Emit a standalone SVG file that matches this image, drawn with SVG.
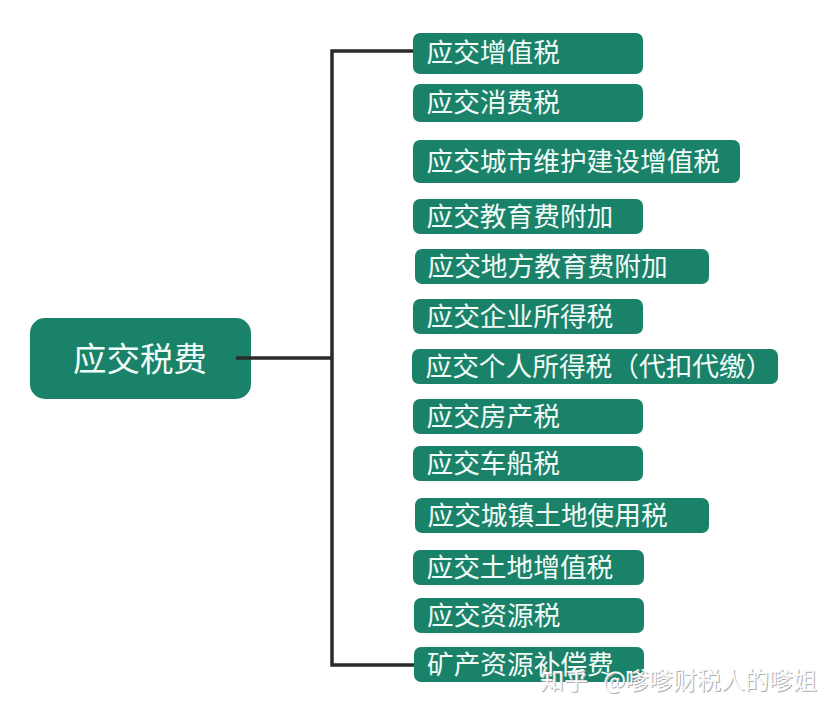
<svg xmlns="http://www.w3.org/2000/svg" width="837" height="714" viewBox="0 0 837 714">
<style>
.n{fill:#1a8269}
.t{fill:#f2fbf8;font-family:"Noto Sans CJK SC","Liberation Sans",sans-serif;font-size:26.7px}
.c{fill:none;stroke:#2a2a2a;stroke-width:3.5}
.w{font-family:"Noto Sans CJK SC","Liberation Sans",sans-serif;font-size:24px}
.s{fill:#b0b0b0}
.f{fill:#fbfbfb}
</style>
<rect width="837" height="714" fill="#fff"/>
<g id="node-root"><rect class="n" x="30" y="318" width="221" height="81" rx="15"/><text class="t" x="73" y="371" style="font-size:33.5px">应交税费</text></g>
<g id="node-1"><rect class="n" x="413" y="33" width="230" height="41" rx="7"/><text class="t" x="426.500" y="62">应交增值税</text></g>
<g id="node-2"><rect class="n" x="413" y="84" width="230" height="38" rx="7"/><text class="t" x="426.500" y="112">应交消费税</text></g>
<g id="node-3"><rect class="n" x="413" y="140" width="327" height="43" rx="7"/><text class="t" x="426.500" y="171">应交城市维护建设增值税</text></g>
<g id="node-4"><rect class="n" x="413" y="199" width="230" height="35" rx="7"/><text class="t" x="426.500" y="226">应交教育费附加</text></g>
<g id="node-5"><rect class="n" x="415" y="249" width="294" height="35" rx="7"/><text class="t" x="427.500" y="276">应交地方教育费附加</text></g>
<g id="node-6"><rect class="n" x="413" y="299" width="230" height="35" rx="7"/><text class="t" x="426.500" y="326">应交企业所得税</text></g>
<g id="node-7"><rect class="n" x="412" y="349" width="366" height="35" rx="7"/><text class="t" x="425.500" y="376">应交个人所得税（代扣代缴）</text></g>
<g id="node-8"><rect class="n" x="413" y="399" width="230" height="35" rx="7"/><text class="t" x="426.500" y="426">应交房产税</text></g>
<g id="node-9"><rect class="n" x="413" y="446" width="230" height="35" rx="7"/><text class="t" x="426.500" y="473">应交车船税</text></g>
<g id="node-10"><rect class="n" x="415" y="498" width="294" height="35" rx="7"/><text class="t" x="427.500" y="525">应交城镇土地使用税</text></g>
<g id="node-11"><rect class="n" x="413" y="550" width="231" height="35" rx="7"/><text class="t" x="426.500" y="577">应交土地增值税</text></g>
<g id="node-12"><rect class="n" x="414" y="598" width="230" height="35" rx="7"/><text class="t" x="427" y="625">应交资源税</text></g>
<g id="node-13"><rect class="n" x="414" y="647" width="230" height="35" rx="7"/><text class="t" x="427" y="674">矿产资源补偿费</text></g>
<g id="connectors"><path class="c" d="M236 358H332M413 51H332V665H414"/></g>
<g id="watermark">
<text class="w s" x="541" y="690">知乎</text><text class="w s" x="604" y="690">@</text><text class="w s" x="626" y="690">嗲嗲财税人的嗲姐</text>
<text class="w f" x="540" y="689">知乎</text><text class="w f" x="603" y="689">@</text><text class="w f" x="625" y="689">嗲嗲财税人的嗲姐</text>
</g>
</svg>
